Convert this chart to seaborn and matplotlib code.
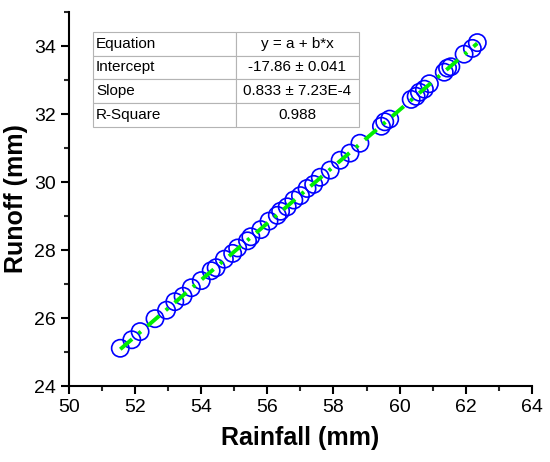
import numpy as np
import pandas as pd
import matplotlib
matplotlib.use('Agg')
import matplotlib.pyplot as plt
import seaborn as sns
from matplotlib.ticker import MultipleLocator

rainfall = [51.55, 51.90, 52.15, 52.60, 52.95, 53.20, 53.45, 53.70, 54.00, 54.30,
            54.45, 54.70, 54.95, 55.10, 55.40, 55.50, 55.80, 56.05, 56.30, 56.40,
            56.60, 56.80, 57.00, 57.20, 57.40, 57.60, 57.90, 58.20, 58.50, 58.80,
            59.45, 59.55, 59.70, 60.35, 60.50, 60.60, 60.75, 60.90, 61.35, 61.45,
            61.55, 61.95, 62.20, 62.35]
runoff = [25.11, 25.36, 25.60, 25.98, 26.23, 26.48, 26.64, 26.89, 27.10, 27.39,
          27.48, 27.73, 27.90, 28.06, 28.27, 28.39, 28.60, 28.85, 29.02, 29.14,
          29.27, 29.47, 29.60, 29.81, 29.93, 30.14, 30.35, 30.64, 30.85, 31.14,
          31.64, 31.77, 31.85, 32.43, 32.52, 32.64, 32.73, 32.89, 33.23, 33.35,
          33.39, 33.76, 33.93, 34.10]

fit_labels = ["Equation", "Intercept", "Slope", "R-Square"]
fit_values = ["y = a + b*x", "-17.86 \u00b1 0.041", "0.833 \u00b1 7.23E-4", "0.988"]
intercept = -17.86
slope = 0.833

df = pd.DataFrame({"Rainfall": rainfall, "Runoff": runoff})

sns.set_style("ticks")
plt.rcParams['font.family'] = ['Liberation Sans', 'DejaVu Sans']
plt.rcParams['text.color'] = 'black'
plt.rcParams['axes.labelcolor'] = 'black'

fig = plt.figure(figsize=(5.5, 4.62), dpi=100)
ax = fig.add_axes([0.1255, 0.1645, 0.8415, 0.8095])

# fitted line
xfit = np.array([min(rainfall), max(rainfall)])
fit_df = pd.DataFrame({"Rainfall": xfit, "Runoff": intercept + slope * xfit})
sns.lineplot(data=fit_df, x="Rainfall", y="Runoff", ax=ax, color="#00ee00",
             lw=2.8, dashes=False, zorder=3)
ax.lines[-1].set_linestyle((0, (4, 2.2, 0.8, 2.2)))

sns.scatterplot(data=df, x="Rainfall", y="Runoff", ax=ax, marker="o", s=155,
                facecolor="none", edgecolor="#0000ff", linewidth=1.2, zorder=2)

ax.set_xlim(50, 64)
ax.set_ylim(24, 35)
ax.xaxis.set_major_locator(MultipleLocator(2))
ax.xaxis.set_minor_locator(MultipleLocator(1))
ax.yaxis.set_major_locator(MultipleLocator(2))
ax.yaxis.set_minor_locator(MultipleLocator(1))
ax.set_yticks([24, 26, 28, 30, 32, 34])
ax.tick_params(axis='both', which='major', length=6, width=1.5, labelsize=14,
               colors='black', direction='out')
ax.tick_params(axis='both', which='minor', length=3.5, width=1.5)
for s in ['left', 'bottom']:
    ax.spines[s].set_linewidth(1.5)
    ax.spines[s].set_color('black')
sns.despine(ax=ax)

ax.set_xlabel("Rainfall (mm)", fontsize=18, fontweight='bold', labelpad=7)
ax.set_ylabel("Runoff (mm)", fontsize=18, fontweight='bold', labelpad=4)

cells = [[a, b] for a, b in zip(fit_labels, fit_values)]
tbl = ax.table(cellText=cells, colWidths=[0.538, 0.462],
               bbox=[0.052, 0.693, 0.574, 0.254], zorder=5)
tbl.auto_set_font_size(False)
for (r, c), cell in tbl.get_celld().items():
    cell.set_edgecolor('#b4b4b4')
    cell.set_linewidth(0.8)
    cell.set_facecolor('white')
    cell.get_text().set_fontsize(11)
    cell.get_text().set_color('black')
    if c == 0:
        cell.get_text().set_ha('left')
        cell.PAD = 0.02
    else:
        cell.get_text().set_ha('center')

fig.savefig("out.png", dpi=100)
